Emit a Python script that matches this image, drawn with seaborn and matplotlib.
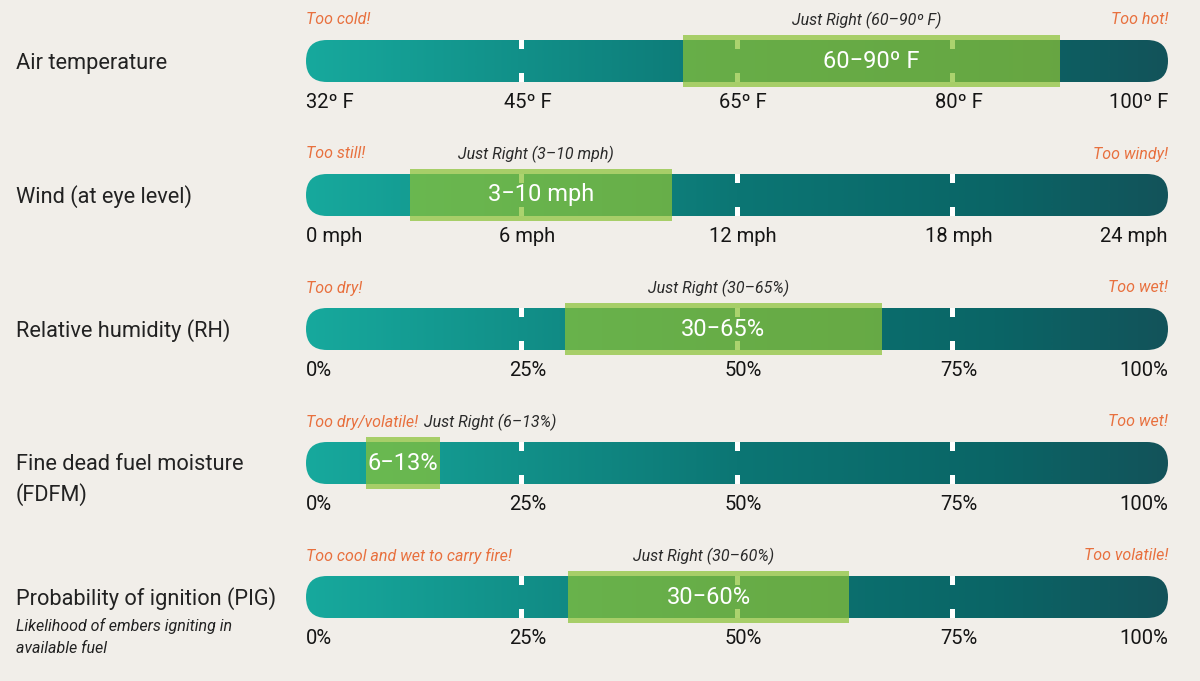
import numpy as np
import matplotlib
matplotlib.use("Agg")
import matplotlib.pyplot as plt
import seaborn as sns
from matplotlib.patches import FancyBboxPatch, Rectangle
from matplotlib.colors import LinearSegmentedColormap
from matplotlib.transforms import blended_transform_factory

# ---------------- data ----------------
rows = ["Air temperature", "Wind (at eye level)", "Relative humidity (RH)",
        "Fine dead fuel moisture\n(FDFM)", "Probability of ignition (PIG)"]
subtitles = ["", "", "", "", "Likelihood of embers igniting in\navailable fuel"]

tick_values = [
    [32, 45, 65, 80, 100],
    [0, 6, 12, 18, 24],
    [0, 25, 50, 75, 100],
    [0, 25, 50, 75, 100],
    [0, 25, 50, 75, 100],
]
tick_labels = [
    ["32º F", "45º F", "65º F", "80º F", "100º F"],
    ["0 mph", "6 mph", "12 mph", "18 mph", "24 mph"],
    ["0%", "25%", "50%", "75%", "100%"],
    ["0%", "25%", "50%", "75%", "100%"],
    ["0%", "25%", "50%", "75%", "100%"],
]
box_low = [60, 2.9, 30, 7, 30.4]
box_high = [90, 10.2, 66.8, 15.5, 63]
range_labels = ["60−90º F", "3−10 mph", "30−65%", "6−13%", "30−60%"]
just_right = ["Just Right (60–90º F)", "Just Right (3–10 mph)", "Just Right (30–65%)",
              "Just Right (6–13%)", "Just Right (30–60%)"]
too_low = ["Too cold!", "Too still!", "Too dry!", "Too dry/volatile!",
           "Too cool and wet to carry fire!"]
too_high = ["Too hot!", "Too windy!", "Too wet!", "Too wet!", "Too volatile!"]

# ---------------- style ----------------
BG = "#f1eee9"
ORANGE = "#e8703e"
sns.set_theme(style="white")
plt.rcParams["font.family"] = ["Roboto", "DejaVu Sans"]

W, H = 1200, 681
fig = plt.figure(figsize=(12, 6.81), dpi=100, facecolor=BG)
bar_left_px, bar_w_px = 306, 862
row0_px, row_step_px = 61, 134
ax = fig.add_axes([bar_left_px / W, 0, bar_w_px / W, 1])
ax.set_facecolor(BG)

px_x = 1.0 / bar_w_px        # data units per pixel (x)
px_y = 1.0 / row_step_px     # data units per pixel (y)
bar_h = 42 * px_y
box_h = 52 * px_y


def frac(i, v):
    tv = tick_values[i]
    return np.interp(v, tv, np.linspace(0, 1, len(tv)))


lo_f = np.array([frac(i, box_low[i]) for i in range(len(rows))])
hi_f = np.array([frac(i, box_high[i]) for i in range(len(rows))])

# green "just right" boxes via seaborn
sns.barplot(x=hi_f - lo_f, y=rows, orient="h", left=lo_f, width=box_h,
            color="#8bc236", saturation=1, alpha=0.72, errorbar=None, ax=ax,
            zorder=4, linewidth=0)

cmap = LinearSegmentedColormap.from_list(
    "bar", [(0, "#17a99d"), (0.5, "#0c7674"), (0.8, "#0a6566"), (1, "#13535a")])
grad = np.linspace(0, 1, 512).reshape(1, -1)
r_x = 21 * px_x
aspect = (bar_w_px / row_step_px)

blend = blended_transform_factory(fig.transFigure, ax.transData)

for i, name in enumerate(rows):
    y = i
    patch = FancyBboxPatch((0, y - bar_h / 2), 1, bar_h,
                           boxstyle=f"round,pad=0,rounding_size={r_x}",
                           mutation_aspect=aspect, transform=ax.transData,
                           facecolor="none", edgecolor="none")
    ax.add_patch(patch)
    im = ax.imshow(grad, extent=[0, 1, y + bar_h / 2, y - bar_h / 2],
                   aspect="auto", cmap=cmap, zorder=1, interpolation="bilinear")
    im.set_clip_path(patch)

    # notches
    nw, nh = 5 * px_x, 9 * px_y
    for xf in [0.25, 0.5, 0.75]:
        for yy in (y - bar_h / 2, y + bar_h / 2 - nh):
            ax.add_patch(Rectangle((xf - nw / 2, yy), nw, nh, facecolor="white",
                                   edgecolor="none", zorder=2))

    # tick labels
    n = len(tick_labels[i])
    for k, lab in enumerate(tick_labels[i]):
        xf = k / (n - 1)
        if k == 0:
            ha, xo = "left", 0
        elif k == n - 1:
            ha, xo = "right", 0
        else:
            ha, xo = "center", 6 * px_x
        ax.text(xf + xo, y + 41 * px_y, lab, ha=ha, va="center", fontsize=14.5,
                color="#151515")

    # above annotations
    ax.text(0, y - 41 * px_y, too_low[i], ha="left", va="center", fontsize=11.5,
            style="italic", color=ORANGE)
    ax.text(1, y - 41 * px_y, too_high[i], ha="right", va="center", fontsize=11.5,
            style="italic", color=ORANGE)
    if i == 3:
        ax.text((424 - bar_left_px) * px_x, y - 41 * px_y, just_right[i], ha="left",
                va="center", fontsize=11.5, style="italic", color="#2a2a2a")
    else:
        ax.text((lo_f[i] + hi_f[i]) / 2 - 5 * px_x, y - 41 * px_y, just_right[i],
                ha="center", va="center", fontsize=11.5, style="italic", color="#2a2a2a")

    # range label in box
    ax.text((lo_f[i] + hi_f[i]) / 2, y, range_labels[i], ha="center", va="center",
            fontsize=17, color="white", zorder=6)

    # left labels
    first = name.split("\n")
    for j, line in enumerate(first):
        ax.text(16 / W, y + (2 + j * 30) * px_y, line, transform=blend, ha="left",
                va="center", fontsize=15.7, color="#222222")
    if subtitles[i]:
        for j, line in enumerate(subtitles[i].split("\n")):
            ax.text(16 / W, y + (26 + 22 * j) * px_y + 3 * px_y, line,
                    transform=blend, ha="left", va="center", fontsize=11.5,
                    style="italic", color="#222222")

ax.set_xlim(0, 1)
ax.set_ylim((H - row0_px) / row_step_px, -row0_px / row_step_px)
ax.axis("off")

fig.savefig("out.png", dpi=100, facecolor=BG)
